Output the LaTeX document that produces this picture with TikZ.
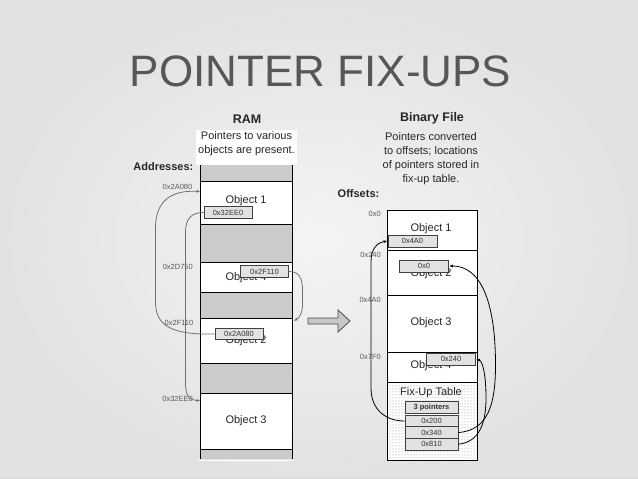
\documentclass[tikz,border=0pt]{standalone}
\usepackage{fontspec}
\setmainfont{Liberation Sans}
\usetikzlibrary{patterns,arrows.meta}
\definecolor{bgin}{HTML}{F4F4F4}
\definecolor{bgout}{HTML}{E2E2E2}
\definecolor{titlec}{HTML}{575757}
\definecolor{ramfill}{HTML}{CBCBCB}
\definecolor{ptrfill}{HTML}{E2E2E2}
\definecolor{conng}{HTML}{707070}
\begin{document}
\begin{tikzpicture}[x=1pt,y=-1pt,
  colline/.style={draw=black, line width=0.9pt},
  objlbl/.style={font=\fontsize{11}{13}\selectfont, text=black!85, inner sep=0},
  ptrbox/.style={draw=black!75, fill=ptrfill, line width=0.8pt, inner sep=0,
     font=\fontsize{7.5}{9}\selectfont, text=black!80, minimum width=48pt, minimum height=11.5pt},
  addr/.style={font=\fontsize{7.5}{9}\selectfont, text=black!65, anchor=east, inner sep=0},
  head/.style={font=\bfseries\fontsize{12.5}{15}\selectfont, text=black!85, inner sep=0},
  note/.style={font=\fontsize{11}{13.8}\selectfont, text=black!85, align=center, inner sep=0},
  sub/.style={font=\bfseries\fontsize{11}{13}\selectfont, text=black!85, inner sep=0},
  gconn/.style={draw=conng, line width=0.8pt, -{Latex[length=4pt,width=3pt]}},
  bconn/.style={draw=black, line width=0.8pt, -{Latex[length=4pt,width=3pt]}}
]
% background
\useasboundingbox (0,0) rectangle (638,479);
\shade[inner color=bgin, outer color=bgout] (0,0) rectangle (638,479);
\fill[black!14] (0,476.5) rectangle (638,479);

% title
\node[font=\fontsize{44}{48}\selectfont, text=titlec, anchor=base, inner sep=0] (title) at (320.5,86) {POINTER FIX-UPS};

% ---------------- RAM column ----------------
\fill[ramfill] (200,150) rectangle (292,181);
\fill[white]   (200,181) rectangle (292,224);
\fill[ramfill] (200,224) rectangle (292,262);
\fill[white]   (200,262) rectangle (292,292);
\fill[ramfill] (200,292) rectangle (292,318);
\fill[white]   (200,318) rectangle (292,363);
\fill[ramfill] (200,363) rectangle (292,393);
\fill[white]   (200,393) rectangle (292,449);
\fill[ramfill] (200,449) rectangle (292,459);
\draw[colline] (200,150) -- (200,459) (292,150) -- (292,459);
\foreach \yy in {181,224,262,292,318,363,393,449}
  \draw[colline] (200,\yy) -- (292,\yy);
\fill[white] (198,459.5) rectangle (294,461);

% RAM headings
\node[head] (ramhead) at (247,119) {RAM};
\fill[white] (196,130) rectangle (297,165);
\node[note, font=\fontsize{11}{14}\selectfont] (ramnote) at (246.5,144) {Pointers to various\\objects are present.};
\node[sub, anchor=east] (addrhead) at (193.5,167) {Addresses:};

% RAM object labels
\node[objlbl] (r1) at (246,201) {Object 1};
\node[objlbl] (r4) at (246,277.5) {Object 4};
\node[objlbl] (r2) at (246,341) {Object 2};
\node[objlbl] (r3) at (246,421) {Object 3};

% addresses
\node[addr] (ad1) at (192.5,186.5) {0x2A080};
\node[addr] (ad2) at (193,267) {0x2D750};
\node[addr] (ad3) at (193.5,323) {0x2F110};
\node[addr] (ad4) at (193,398.5) {0x32EE0};
\coordinate (ta1) at (200.5,191.5);
\coordinate (ta4) at (200.5,400.5);
\coordinate (ta3) at (293.5,321);

% RAM pointer boxes
\node[ptrbox] (p32EE0) at (228,212.5) {0x32EE0};
\node[ptrbox] (p2F110) at (264.5,271.5) {0x2F110};
\node[ptrbox] (p2A080) at (239,334) {0x2A080};

% RAM connectors
\draw[gconn] (p2A080.west) .. controls (172,335) and (155.5,326) .. (155.5,302)
   -- (155.5,228) .. controls (155.5,202) and (170,190) .. (ta1);
\draw[gconn] (p32EE0.west) .. controls (192,212.5) and (185.5,218) .. (185.5,232)
   -- (185.5,384) .. controls (185.5,396) and (190,400.5) .. (ta4);
\draw[gconn] (p2F110.east) .. controls (299,271.5) and (302.5,278) .. (302.5,290)
   -- (302.5,304) .. controls (302.5,314) and (299,318) .. (ta3);

% big arrow
\draw[fill=black!22, draw=black!70, line width=0.8pt] (308,318) -- (338,318) -- (338,310) -- (350,321)
   -- (338,332) -- (338,324) -- (308,324) -- cycle;

% ---------------- Binary file column ----------------
\fill[white] (387,210) rectangle (477,382);
\fill[white] (387,382) rectangle (477,460);
\fill[pattern=dots, pattern color=black!45] (387,382) rectangle (477,460);
\draw[colline] (387,210) rectangle (477,460);
\foreach \yy in {250,295,352,382}
  \draw[colline] (387,\yy) -- (477,\yy);

\node[head] (binhead) at (432,118) {Binary File};
\node[note] (binnote) at (431,158.5) {Pointers converted\\to offsets; locations\\of pointers stored in\\fix-up table.};
\node[sub, anchor=east] (offhead) at (379.5,194) {Offsets:};

\node[objlbl] (b1) at (431,229) {Object 1};
\node[objlbl] (b2) at (431,273.5) {Object 2};
\node[objlbl] (b3) at (431,323) {Object 3};
\node[objlbl] (b4) at (431,366) {Object 4};
\node[objlbl] (fixlbl) at (431,393) {Fix-Up Table};

\node[addr] (of1) at (381,214) {0x0};
\node[addr] (of2) at (381,255) {0x240};
\node[addr] (of3) at (381,300) {0x4A0};
\node[addr] (of4) at (381,357) {0x7F0};

% binary pointer boxes
\node[ptrbox, minimum width=49pt, minimum height=12pt] (b4A0) at (412.5,241) {0x4A0};
\node[ptrbox, minimum width=49pt, minimum height=12pt] (b0) at (424,266) {0x0};
\node[ptrbox, minimum width=49pt, minimum height=12pt] (b240) at (451,359) {0x240};

% fix-up table entries
\node[ptrbox, minimum width=53pt, minimum height=11.6pt, font=\bfseries\fontsize{7.5}{9}\selectfont] (t3) at (431.5,407.5) {3 pointers};
\node[ptrbox, minimum width=53pt, minimum height=11.6pt] (t200) at (431.5,421) {0x200};
\node[ptrbox, minimum width=53pt, minimum height=11.6pt] (t340) at (431.5,432.6) {0x340};
\node[ptrbox, minimum width=53pt, minimum height=11.6pt] (t810) at (431.5,444.2) {0x810};

% binary connectors
\draw[bconn] (t200.west) .. controls (386,421) and (371,410) .. (371,388)
   -- (371,262) .. controls (371,250) and (376,243) .. (b4A0.west);
\draw[bconn] (t340.east) .. controls (488,430) and (495.5,405) .. (495.5,365)
   .. controls (495.5,300) and (480,266) .. (b0.east);
\draw[bconn] (t810.east) .. controls (480,442) and (486,422) .. (486,398)
   .. controls (486,372) and (482,361) .. (b240.east);
\end{tikzpicture}
\end{document}
